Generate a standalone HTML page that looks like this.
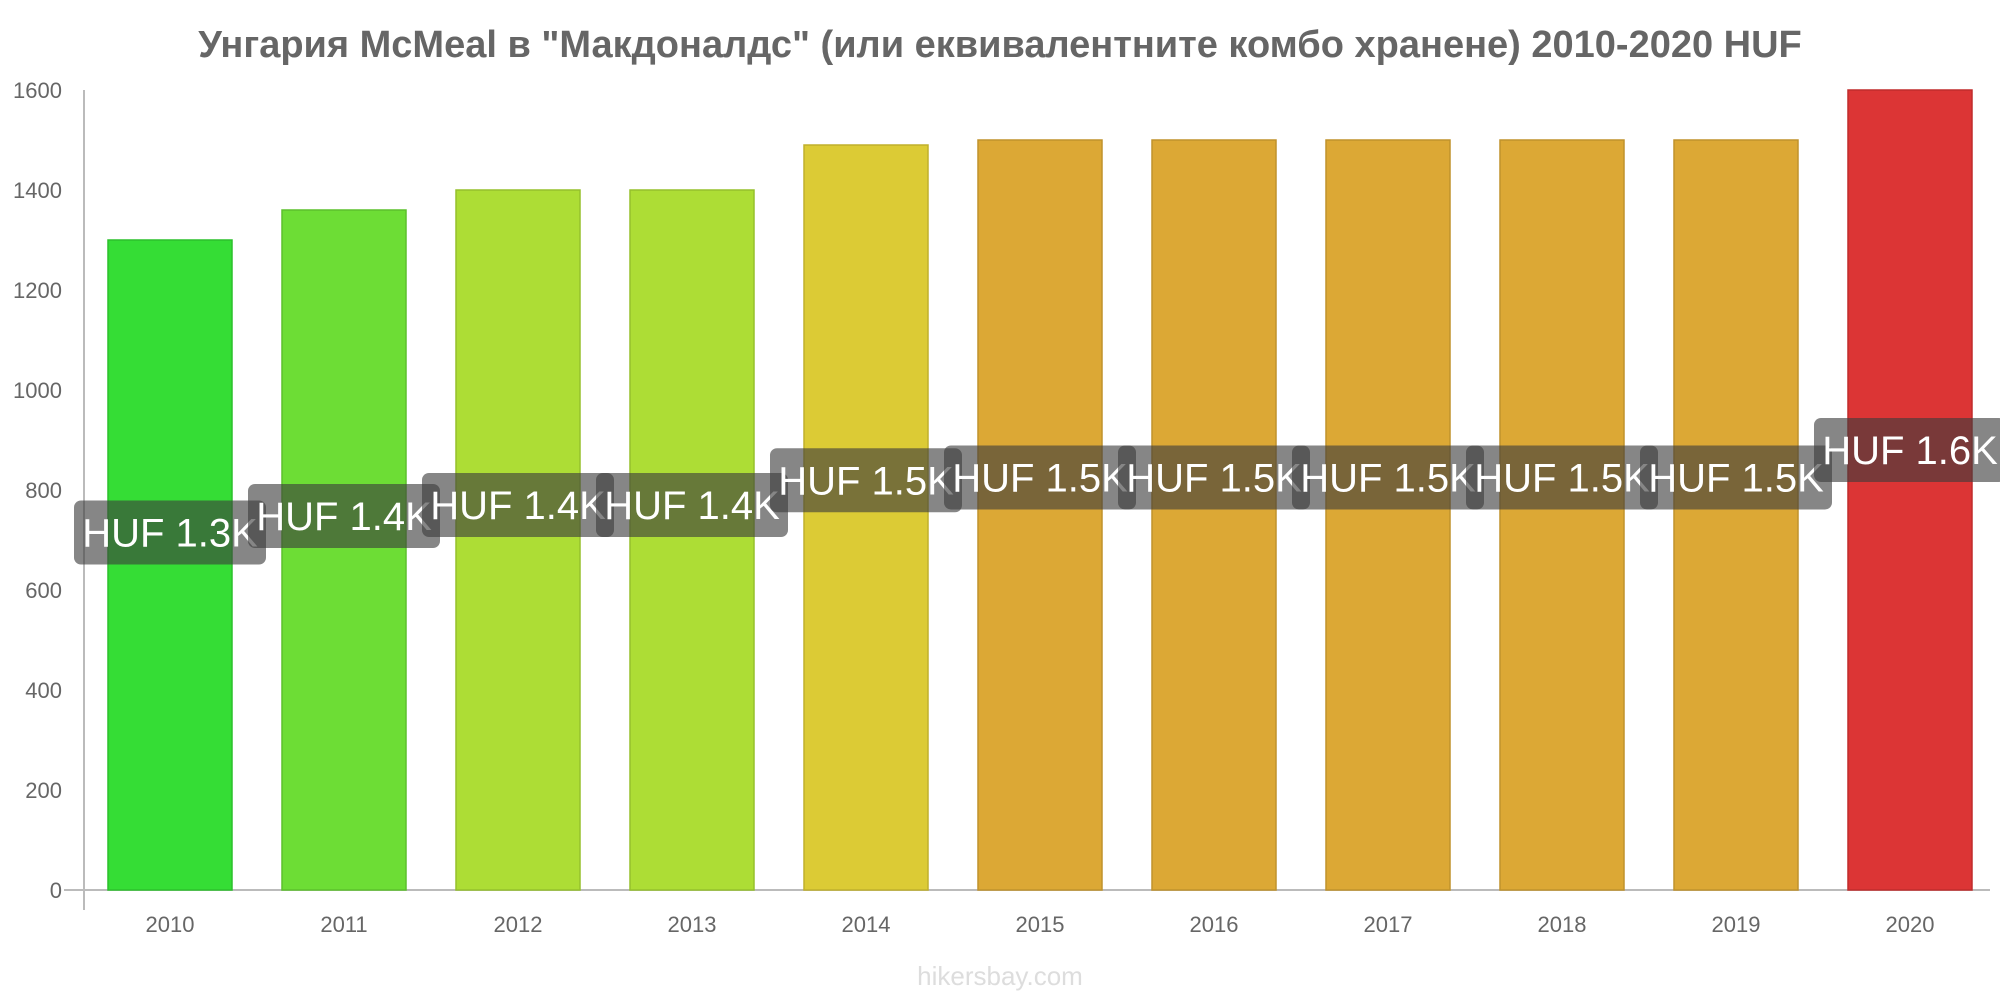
<!DOCTYPE html>
<html><head><meta charset="utf-8"><style>
body{margin:0;background:#fff;width:2000px;height:1000px;overflow:hidden;font-family:"Liberation Sans",sans-serif}
</style></head><body>
<svg id="c" width="2000" height="1000" xmlns="http://www.w3.org/2000/svg">
<text x="1000" y="57" text-anchor="middle" font-size="38" font-weight="bold" fill="#666">Унгария McMeal в "Макдоналдс" (или еквивалентните комбо хранене) 2010-2020 HUF</text>
<text x="1000" y="985" text-anchor="middle" font-size="26" fill="#ddd">hikersbay.com</text>
<g id="axes"></g><g id="bars"></g><g id="labels"></g>
</svg>
<script>
const categories=["2010","2011","2012","2013","2014","2015","2016","2017","2018","2019","2020"];
const values=[1300,1360,1400,1400,1490,1500,1500,1500,1500,1500,1600];
const valueLabels=["HUF 1.3K","HUF 1.4K","HUF 1.4K","HUF 1.4K","HUF 1.5K","HUF 1.5K","HUF 1.5K","HUF 1.5K","HUF 1.5K","HUF 1.5K","HUF 1.6K"];
const colors=["#35dd35","#6ddd35","#addd35","#addd35","#dccb35","#dca835","#dca835","#dca835","#dca835","#dca835","#dc3535"];
const strokes=["#2cc02c","#5cc02c","#95c02c","#95c02c","#c0b02c","#c0922c","#c0922c","#c0922c","#c0922c","#c0922c","#c02c2c"];
const yTicks=[0,200,400,600,800,1000,1200,1400,1600];
const NS="http://www.w3.org/2000/svg";
const x0=84,x1=1990,yBase=890,yMax=1600,yTop=90;
const y=v=>yBase-(v/yMax)*(yBase-yTop);
const pitch=174,bw=124,firstLeft=108;
const xL=i=>firstLeft+i*pitch;
function mk(t,a,p){const e=document.createElementNS(NS,t);for(const k in a)e.setAttribute(k,a[k]);p.appendChild(e);return e;}
const ax=document.getElementById('axes');
let l=mk('line',{x1:x0,y1:yTop,x2:x0,y2:910,stroke:'#bbb','stroke-width':2},ax);


l=mk('line',{x1:x0-20,y1:yBase,x2:x1,y2:yBase,stroke:'#bbb','stroke-width':2},ax);


yTicks.forEach(v=>{
 const t=mk('text',{x:62,y:y(v)+8,'text-anchor':'end','font-size':22,fill:'#666'},ax);t.textContent=v;
 
 
});
const bg=document.getElementById('bars'),lg=document.getElementById('labels');
categories.forEach((c,i)=>{
 const r=mk('rect',{x:xL(i),y:y(values[i]),width:bw,height:yBase-y(values[i]),fill:colors[i],stroke:strokes[i],'stroke-width':1.5},bg);
 
 
 const t=mk('text',{x:xL(i)+bw/2,y:932,'text-anchor':'middle','font-size':22,fill:'#666'},bg);t.textContent=c;
 
 
 const cy=yBase-values[i]*0.275, cx=xL(i)+bw/2;
 const b=mk('rect',{x:cx-96,y:cy-32,width:192,height:64,rx:7,fill:'rgba(60,60,60,0.62)'},lg);
 
 
 const vt=mk('text',{x:cx,y:cy+14,'text-anchor':'middle','font-size':40,fill:'#fff'},lg);vt.textContent=valueLabels[i];
 
 
});
</script>
</body></html>
